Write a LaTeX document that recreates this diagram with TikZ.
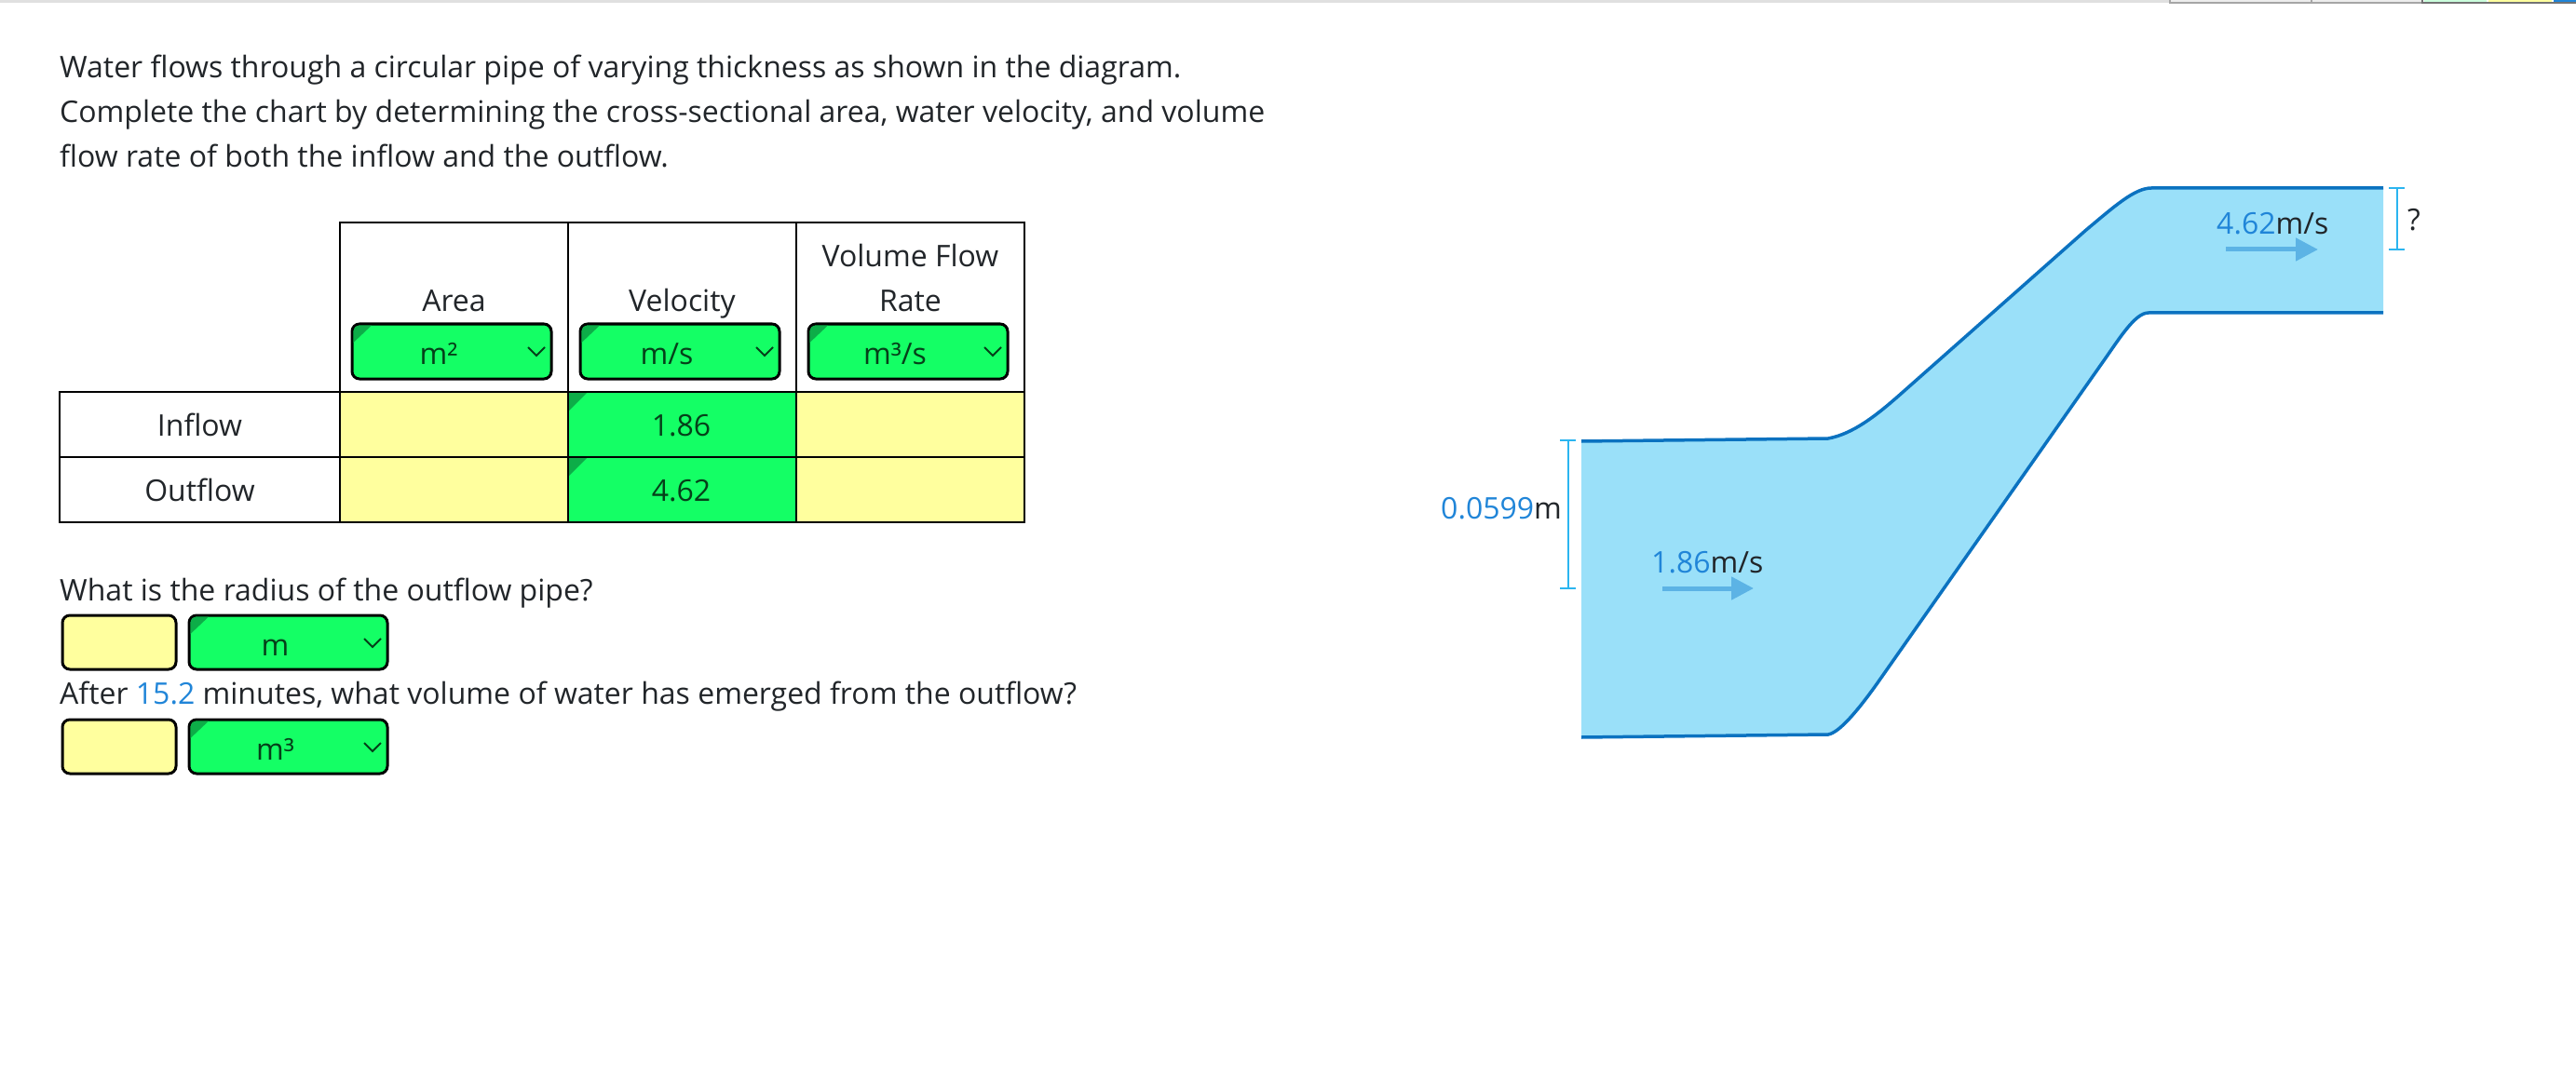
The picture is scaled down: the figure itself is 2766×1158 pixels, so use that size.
\documentclass[tikz,border=0pt]{standalone}
\usepackage{fontspec}
\setmainfont{Open Sans}
\usetikzlibrary{arrows.meta}
\definecolor{inkc}{HTML}{212529}
\definecolor{numc}{HTML}{2085D8}
\definecolor{okc}{HTML}{14FF65}
\definecolor{okd}{HTML}{0DAD48}
\definecolor{askc}{HTML}{FFFF9E}
\definecolor{waterc}{HTML}{9AE0F9}
\definecolor{wallc}{HTML}{0B72C0}
\definecolor{gaugec}{HTML}{2BB5F0}
\definecolor{flowc}{HTML}{5CB3E5}
\tikzset{
  txt/.style={inner sep=0pt,text=inkc,font=\fontsize{32}{38}\selectfont},
  boxgreen/.style={draw=black,line width=3pt,fill=okc,rounded corners=8pt},
  boxyellow/.style={draw=black,line width=3pt,fill=askc,rounded corners=8pt},
  gridline/.style={draw=black,line width=2.5pt},
  chev/.style={draw=black!75!okc,line width=2pt}
}
\newcommand{\num}[1]{\textcolor{numc}{#1}}
% x, y of a unit box with its corner mark and arrow
\newcommand{\unitbox}[5]{
  \draw[boxgreen] (#1,#2) rectangle (#3,#4);
  \fill[okd] (#1+1.5,#2+20) -- (#1+1.5,#2+8) arc (180:270:6.5) -- (#1+21,#2+1.5) -- cycle;
  \draw[chev] (#3-25,#2+25) -- (#3-16,#2+34) -- (#3-7,#2+25);
  \node[txt,text=black!75!okc,anchor=base] at (#1/2+#3/2-14,#2+43) {#5};
}
\begin{document}
\begin{tikzpicture}[x=1pt,y=-1pt,line cap=butt]
\useasboundingbox (0,0) rectangle (2766,1158);
% page top strip
\fill[black!12] (0,0) rectangle (2329,3.5);
\fill[black!7] (2330,0) rectangle (2600,2.5);
\draw[black!35,line width=2pt] (2330,0) -- (2330,4) (2482,0) -- (2482,4) (2330,3) -- (2600,3);
\draw[black!55,line width=2pt] (2601,0) -- (2601,4) (2600,3) -- (2766,3);
\fill[okc!22] (2603,0) rectangle (2670,2);
\fill[askc] (2672,0) rectangle (2740,2);
\fill[numc] (2742,0) rectangle (2766,2.5);
% question
\node[txt,anchor=base west] (qa) at (64,83.5) {Water flows through a circular pipe of varying thickness as shown in the diagram.};
\node[txt,anchor=base west] (qb) at (64,131.5) {Complete the chart by determining the cross-sectional area, water velocity, and volume};
\node[txt,anchor=base west] (qc) at (64,179.5) {flow rate of both the inflow and the outflow.};
% chart
\fill[askc] (365,421) rectangle (610,561);
\fill[askc] (855,421) rectangle (1100,561);
\fill[okc] (610,421) rectangle (855,561);
\fill[okd] (611,421) -- (631,421) -- (611,441) -- cycle;
\fill[okd] (611,491) -- (631,491) -- (611,511) -- cycle;
\draw[gridline] (365,239) rectangle (1100,561);
\draw[gridline] (64,421) rectangle (1100,561);
\draw[gridline] (64,491) -- (1100,491);
\foreach \cx in {365,610,855} \draw[gridline] (\cx,239) -- (\cx,561);
\node[txt,anchor=base] (area) at (487.5,334.5) {Area};
\node[txt,anchor=base] (vel) at (732.5,334.5) {Velocity};
\node[txt,anchor=base] (volb) at (977.5,286.5) {Volume Flow};
\node[txt,anchor=base] (volc) at (977.5,334.5) {Rate};
\unitbox{378}{348}{592}{407}{m²}
\unitbox{623}{348}{837}{407}{m/s}
\unitbox{868}{348}{1082}{407}{m³/s}
\node[txt,anchor=base] (inf) at (214.5,468.5) {Inflow};
\node[txt,anchor=base] (outf) at (214.5,538.5) {Outflow};
\node[txt,anchor=base,text=black!75!okc] (vi) at (731.5,468.5) {1.86};
\node[txt,anchor=base,text=black!75!okc] (vo) at (731.5,538.5) {4.62};
% lower questions
\node[txt,anchor=base west] (qd) at (64,645.5) {What is the radius of the outflow pipe?};
\draw[boxyellow] (67,661) rectangle (189,719);
\unitbox{203}{661}{416}{719}{m}
\node[txt,anchor=base west] (qe) at (64,756.5) {After \num{15.2} minutes, what volume of water has emerged from the outflow?};
\draw[boxyellow] (67,773) rectangle (189,831);
\unitbox{203}{773}{416}{831}{m³}
% pipe
\fill[waterc] (1698,474) -- (1963,471) .. controls (1990,466) and (2015,446) .. (2040,424) -- (2240,247) .. controls (2270,222) and (2292,202) .. (2310,202) -- (2559,202) -- (2559,336) -- (2307,336) .. controls (2292,336) and (2275,365) .. (2255,393) -- (2015,735) .. controls (1995,763) and (1975,787) .. (1963,789) -- (1698,792) -- cycle;
\draw[wallc,line width=3.5pt] (1698,474) -- (1963,471) .. controls (1990,466) and (2015,446) .. (2040,424) -- (2240,247) .. controls (2270,222) and (2292,202) .. (2310,202) -- (2559,202);
\draw[wallc,line width=3.5pt] (1698,792) -- (1963,789) .. controls (1975,787) and (1995,763) .. (2015,735) -- (2255,393) .. controls (2275,365) and (2292,336) .. (2307,336) -- (2559,336);
% gauges
\draw[gaugec,line width=2.5pt] (1675,473) -- (1692,473) (1684,473) -- (1684,632) (1675,632) -- (1692,632);
\draw[gaugec,line width=2.5pt] (2565,202) -- (2582,202) (2574,202) -- (2574,268) (2565,268) -- (2582,268);
\node[txt,anchor=base west] (dl) at (1547,557) {\num{0.0599}m};
\node[txt,anchor=base west] (dr) at (2585,248) {?};
% flow arrows
\coordinate (fa) at (1785,632); \coordinate (fb) at (1883,632);
\coordinate (fc) at (2390,268); \coordinate (fd) at (2489,268);
\draw[flowc,line width=5pt,-{Triangle[length=24pt,width=24pt]}] (fa) -- (fb);
\draw[flowc,line width=5pt,-{Triangle[length=24pt,width=24pt]}] (fc) -- (fd);
\node[txt,anchor=base west] (vl) at (1773,615) {\num{1.86}m/s};
\node[txt,anchor=base west] (vr) at (2380,252) {\num{4.62}m/s};
\end{tikzpicture}
\end{document}
